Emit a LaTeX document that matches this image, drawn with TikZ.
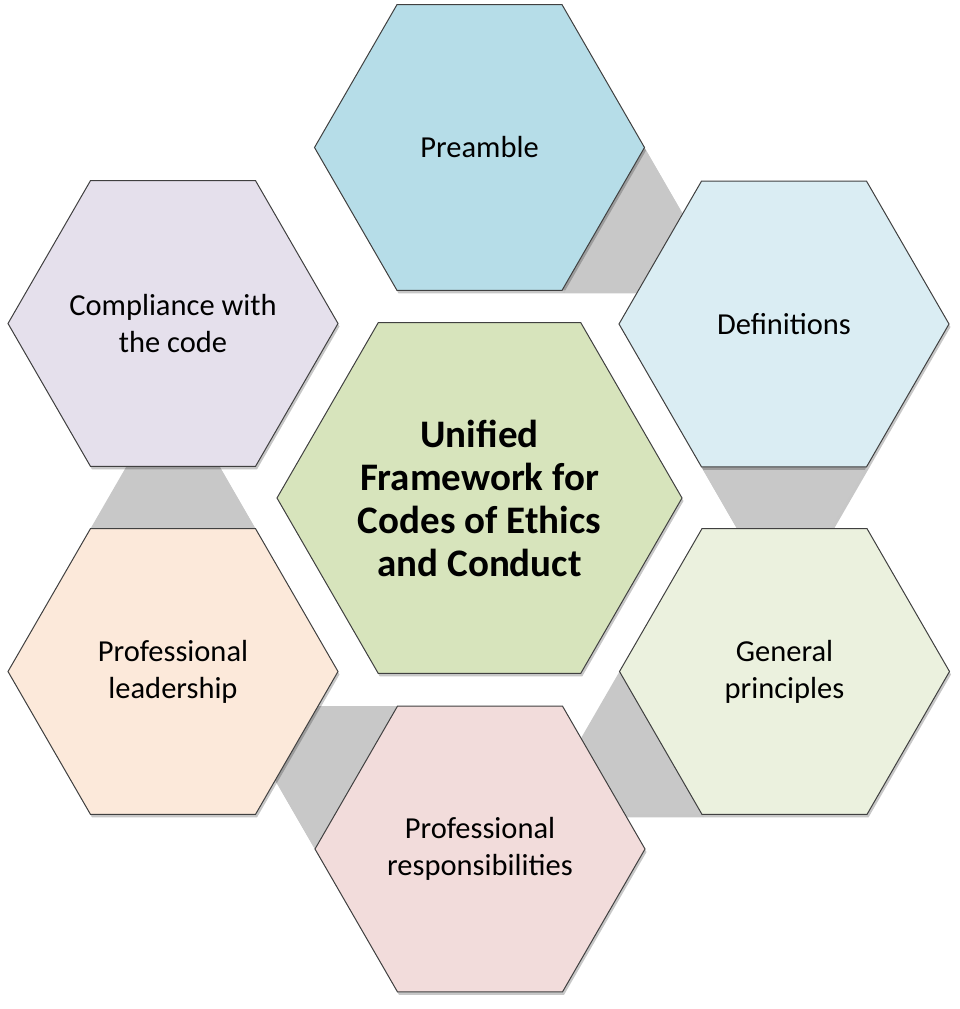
\documentclass[tikz,border=0pt]{standalone}
\usepackage{fontspec}
\setmainfont{Carlito}
\usetikzlibrary{shapes.geometric,calc,shadows}
\pgfdeclarelayer{background}
\pgfsetlayers{background,main}
\definecolor{cPre}{HTML}{B6DDE8}
\definecolor{cDef}{HTML}{DAEDF3}
\definecolor{cCen}{HTML}{D7E4BC}
\definecolor{cGen}{HTML}{EBF1DE}
\definecolor{cRes}{HTML}{F2DCDB}
\definecolor{cLea}{HTML}{FCE9DA}
\definecolor{cCom}{HTML}{E5E0EC}
\definecolor{hexline}{HTML}{404040}
\definecolor{linkgray}{HTML}{C8C8C8}
\tikzset{
  softshadow/.style={drop shadow={shadow xshift=1.5pt,shadow yshift=-3pt,opacity=0.22,fill=black}},
  hexa/.style={regular polygon, regular polygon sides=6, minimum size=330pt,
    inner sep=-40pt, draw=hexline, line width=1pt, align=center,
    font=\fontsize{30.5}{37}\selectfont, softshadow},
  bighexa/.style={hexa, minimum size=405pt, font=\bfseries\fontsize{39}{43}\selectfont},
  link/.style={fill=linkgray, softshadow}
}
\begin{document}
\begin{tikzpicture}
\useasboundingbox (0pt,0pt) rectangle (959pt,-1009pt);
\node[hexa, fill=cPre] (pre) at (479.5pt,-147.5pt) {Preamble};
\node[hexa, fill=cDef] (def) at (784pt,-324pt) {Definitions};
\node[hexa, fill=cGen] (gen) at (784.5pt,-671.5pt) {General\\principles};
\node[hexa, fill=cRes] (res) at (480pt,-849pt) {Professional\\responsibilities};
\node[hexa, fill=cLea] (lea) at (173pt,-671.5pt) {Professional\\leadership};
\node[hexa, fill=cCom] (com) at (173pt,-323.5pt) {Compliance with\\the code};
\node[bighexa, fill=cCen] (cen) at (479.5pt,-498pt) {Unified\\Framework for\\Codes of Ethics\\and Conduct};
\begin{pgfonlayer}{background}
\foreach \a/\k in {pre/0,def/1,gen/2,res/3,lea/4}{
  \fill[link] ($(\a.center)+({-60*\k}:165pt)$) -- ++({-60-60*\k}:100pt)
    -- ($(\a.center)+({-60-60*\k}:165pt)+({-60*\k}:100pt)$)
    -- ($(\a.center)+({-60-60*\k}:165pt)$) -- cycle;
}
\end{pgfonlayer}
\end{tikzpicture}
\end{document}
